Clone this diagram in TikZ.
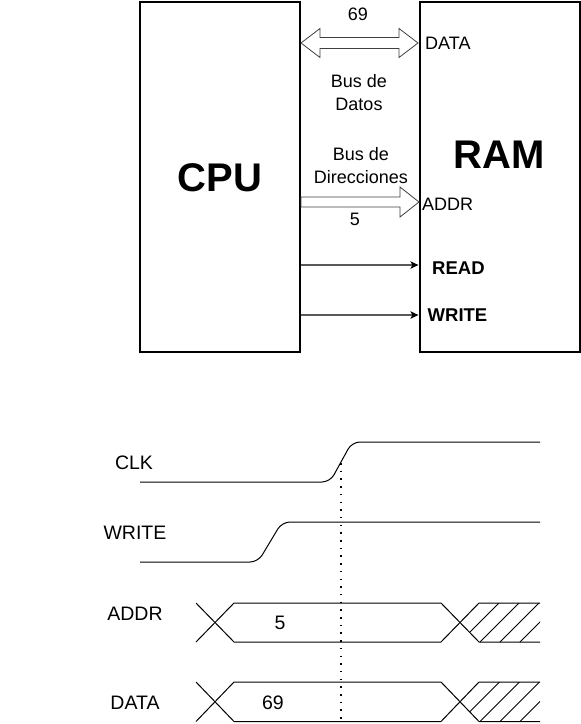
\documentclass[tikz,border=0pt]{standalone}
\usepackage{fontspec}
\setmainfont{Liberation Sans}
\usetikzlibrary{arrows.meta}
\begin{document}
\begin{tikzpicture}[x=1pt,y=-1pt,
  unitbox/.style={draw, line width=1.2pt, minimum width=160pt, minimum height=350pt, inner sep=0pt},
  lbl/.style={font=\fontsize{18}{23}\selectfont, inner sep=0pt, align=center},
  tlbl/.style={font=\fontsize{19.5}{23}\selectfont, inner sep=0pt},
  big/.style={font=\fontsize{40}{44}\selectfont\bfseries, inner sep=0pt},
  boldlbl/.style={font=\fontsize{18.5}{22}\selectfont\bfseries, inner sep=0pt, anchor=west},
  ctl/.style={draw=black!65, line width=1.1pt, shorten >=1pt, -{Stealth[length=8pt,width=7.5pt,inset=2pt,black]}},
  blockarrow/.style={draw=black!75, line width=0.8pt, fill=white, line join=miter},
  sig/.style={line width=1pt},
  clkline/.style={line width=1.5pt, dash pattern=on 1.5pt off 6.2pt}]
\useasboundingbox (0,0) rectangle (581,724);

% boxes
\node[unitbox] (cpu) at (220,177) {};
\node[unitbox] (ram) at (500,177) {};
\node[big] (cputxt) at (220,177.5) {CPU};
\node[big] (ramtxt) at (499,155) {RAM};

% data bus (double block arrow)
\draw[blockarrow] (301,43) -- (320,28.5) -- (320,37.5) -- (399,37.5) -- (399,28.5) -- (418,43)
  -- (399,57.5) -- (399,48.5) -- (320,48.5) -- (320,57.5) -- cycle;
\node[lbl] (v69) at (358,14) {69};
\node[lbl, anchor=west] (datal) at (425,43.5) {DATA};
\node[lbl] (busd) at (359,93) {Bus de\\Datos};

% address bus (single block arrow)
\draw[blockarrow] (301,197) -- (400,197) -- (400,187) -- (419,202) -- (400,217) -- (400,207) -- (301,207) -- cycle;
\node[lbl] (busa) at (361,165.5) {Bus de\\Direcciones};
\node[lbl, anchor=west] (addrl) at (422,204) {ADDR};
\node[lbl] (v5) at (355,219) {5};

% control lines
\coordinate (rd) at (0,265);
\coordinate (wr) at (0,315);
\draw[ctl] (cpu.east |- rd) -- (ram.west |- rd);
\draw[ctl] (cpu.east |- wr) -- (ram.west |- wr);
\node[boldlbl] (readl) at (432,268) {READ};
\node[boldlbl] (writel) at (427.5,315.5) {WRITE};

% timing diagram labels
\node[tlbl] (tclk) at (134,463) {CLK};
\node[tlbl] (twr) at (135,533) {WRITE};
\node[tlbl] (tad) at (135,614) {ADDR};
\node[tlbl] (tda) at (135,703) {DATA};

% CLK
\draw[sig, rounded corners=8pt] (140,482) -- (330,482) -- (352,442) -- (540,442);
% WRITE
\draw[sig, rounded corners=8pt] (140,562) -- (258,562) -- (282,522) -- (540,522);

% ADDR bus
\draw[sig] (196,603) -- (234,642) -- (441,642) -- (479,603) -- (540,603);
\draw[sig] (196,642) -- (234,603) -- (441,603) -- (479,642) -- (540,642);
\begin{scope}
  \clip (460,622.5) -- (479,603) -- (540,603) -- (540,642) -- (479,642) -- cycle;
  \foreach \x in {460,480,500,520} \draw[sig] (\x,642) -- ++(45,-45);
\end{scope}
\node[tlbl] (a5) at (280,623) {5};

% DATA bus
\draw[sig] (196,682) -- (234,721.5) -- (441,721.5) -- (479,682) -- (540,682);
\draw[sig] (196,721.5) -- (234,682) -- (441,682) -- (479,721.5) -- (540,721.5);
\begin{scope}
  \clip (460,701.75) -- (479,682) -- (540,682) -- (540,721.5) -- (479,721.5) -- cycle;
  \foreach \x in {460,480,500,520} \draw[sig] (\x,721.5) -- ++(45,-45);
\end{scope}
\node[tlbl] (d69) at (273,703) {69};

% clock edge reference
\draw[clkline] (341,463) -- (341,724);
\end{tikzpicture}
\end{document}
